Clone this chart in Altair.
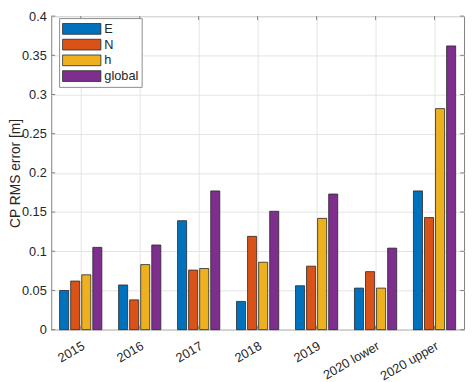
import altair as alt
import pandas as pd

years = ["2015", "2016", "2017", "2018", "2019", "2020 lower", "2020 upper"]
series = ["E", "N", "h", "global"]
E_vals = [0.050, 0.057, 0.139, 0.036, 0.056, 0.053, 0.177]
N_vals = [0.062, 0.038, 0.076, 0.119, 0.081, 0.074, 0.143]
h_vals = [0.070, 0.083, 0.078, 0.086, 0.142, 0.053, 0.282]
g_vals = [0.105, 0.108, 0.177, 0.151, 0.173, 0.104, 0.362]
colors = ["#0072BD", "#D95319", "#EDB120", "#7E2F8E"]
y_ticks = [0, 0.05, 0.1, 0.15, 0.2, 0.25, 0.3, 0.35, 0.4]

rows = []
for s, vals in zip(series, [E_vals, N_vals, h_vals, g_vals]):
    for yr, v in zip(years, vals):
        rows.append({"year": yr, "series": s, "value": v})
df = pd.DataFrame(rows)
ytick_df = pd.DataFrame({"value": y_ticks})
xtick_df = pd.DataFrame({"year": years})

FONT = "Liberation Sans"
TXT = "#262626"
W, H = 420, 319
TICK = "#808080"

x_enc = alt.X(
    "year:N", sort=years,
    scale=alt.Scale(paddingInner=0.25, paddingOuter=0.125),
    axis=alt.Axis(title=None, labelAngle=-30, labelAlign="right", labelBaseline="top",
                  labelPadding=10, ticks=False, grid=True, bandPosition=0.5,
                  domain=False, labelFontSize=13, labelColor=TXT, labelFont=FONT),
)
y_enc = alt.Y(
    "value:Q",
    scale=alt.Scale(domain=[0, 0.4], nice=False),
    axis=alt.Axis(title="CP RMS error [m]", values=y_ticks, format="~g",
                  ticks=False, labelPadding=5, domain=False, grid=True,
                  labelFontSize=13, labelColor=TXT, labelFont=FONT,
                  titleFontSize=14, titleFontWeight="normal", titleColor=TXT,
                  titleFont=FONT, titleX=-29),
)

bars = alt.Chart(df).mark_bar(stroke="#262626", strokeWidth=0.8).encode(
    x=x_enc,
    xOffset=alt.XOffset("series:N", sort=series,
                        scale=alt.Scale(paddingInner=0.18, paddingOuter=0.09)),
    y=y_enc,
    color=alt.Color(
        "series:N", sort=series,
        scale=alt.Scale(domain=series, range=colors),
        legend=alt.Legend(title=None, orient="none", legendX=8, legendY=2,
                          symbolType="M-1,-0.28H1V0.28H-1Z", symbolSize=1521,
                          symbolStrokeColor="#262626", symbolStrokeWidth=0.8,
                          symbolOpacity=1, labelFontSize=13, labelOffset=3,
                          labelFont=FONT, labelColor=TXT,
                          fillColor="white", strokeColor="#8c8c8c", padding=3,
                          clipHeight=16, rowPadding=0),
    ),
)

ytl = alt.Chart(ytick_df).mark_rule(color=TICK, strokeWidth=1).encode(
    y=y_enc, x=alt.value(0), x2=alt.value(4))
ytr = alt.Chart(ytick_df).mark_rule(color=TICK, strokeWidth=1).encode(
    y=y_enc, x=alt.value(W - 4), x2=alt.value(W))
xtb = alt.Chart(xtick_df).mark_rule(color=TICK, strokeWidth=1).encode(
    x=x_enc, y=alt.value(H - 4), y2=alt.value(H))
xtt = alt.Chart(xtick_df).mark_rule(color=TICK, strokeWidth=1).encode(
    x=x_enc, y=alt.value(0), y2=alt.value(4))

chart = alt.layer(bars, ytl, ytr, xtb, xtt).properties(
    width=W, height=H,
    autosize=alt.AutoSizeParams(type="none"),
    padding={"left": 44, "top": 5, "right": 2, "bottom": 50},
).configure_view(
    stroke="#808080", strokeWidth=1
).configure_axis(
    gridColor="#e3e3e3", gridWidth=1
)

chart.save("out.html", embed_options={"renderer": "svg", "actions": False})
